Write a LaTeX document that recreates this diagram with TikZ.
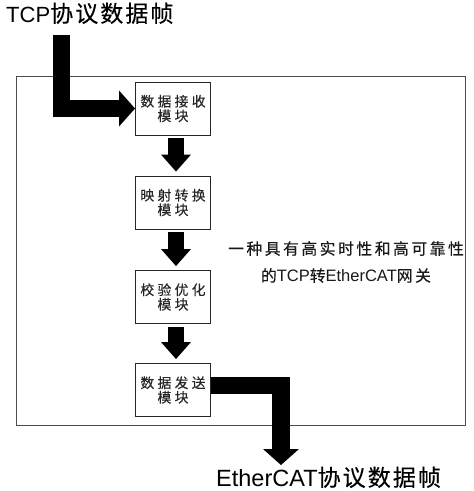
\documentclass[tikz,border=0pt]{standalone}
\usepackage{fontspec}
\setmainfont{Liberation Sans}
\newfontfamily\cjkbig{Noto Sans CJK SC}[LetterSpace=9,FakeBold=0.3]
\newfontfamily\cjkmid{Noto Sans CJK SC}[LetterSpace=16,FakeBold=0.3]
\newfontfamily\cjkbox{Noto Sans CJK SC}[LetterSpace=24,FakeBold=0.15]
\usetikzlibrary{arrows.meta}
\tikzset{
  modbox/.style={draw=black!85, line width=0.9pt, minimum width=75pt, minimum height=53pt,
    inner sep=0pt, align=center, text=black!85, font=\cjkbox\fontsize{13.8pt}{14.5pt}\selectfont},
  downarrow/.style={line width=16pt, line cap=butt,
    -{Triangle[width=30pt,length=17pt,line width=0pt]}},
  bentarrow/.style={line width=17.5pt, line cap=butt, line join=miter,
    -{Triangle[width=36pt,length=16pt,line width=0pt]}},
}
\begin{document}
\begin{tikzpicture}[x=1pt,y=-1pt]
\useasboundingbox (0,0) rectangle (474,491);
\fill[white] (0,0) rectangle (474,491);
% outer gateway frame
\node[draw=black!70, line width=0.9pt, minimum width=449pt, minimum height=349pt, inner sep=0pt] (frame) at (240.5,250.5) {};
% modules
\node[modbox] (m1) at (173,108.5) {数据接收\\模块};
\node[modbox] (m2) at (173,202.5) {映射转换\\模块};
\node[modbox] (m3) at (173,297) {校验优化\\模块};
\node[modbox] (m4) at (173,390) {数据发送\\模块};
% gateway label
\node[align=center, inner sep=0pt, text=black!90, font=\fontsize{16.5pt}{27pt}\selectfont] (label) at (346,262)
  {{\cjkmid\fontsize{15.8pt}{27pt}\selectfont 一种具有高实时性和高可靠性}\\{\cjkmid\fontsize{15.8pt}{27pt}\selectfont 的}TCP{\cjkmid\fontsize{15.8pt}{27pt}\selectfont 转}EtherCAT{\cjkmid\fontsize{15.8pt}{27pt}\selectfont 网关}};
% input / output texts
\node[anchor=base west, inner sep=0pt] (tcp) at (6,22)
  {\fontsize{22pt}{26pt}\selectfont TCP{\cjkbig\fontsize{23pt}{26pt}\selectfont 协议数据帧}};
\node[anchor=base west, inner sep=0pt] (ecat) at (216,486)
  {\fontsize{23.5pt}{28pt}\selectfont EtherCAT{\cjkbig\fontsize{23pt}{26pt}\selectfont 协议数据帧}};
\coordinate (tcpout) at (61.5,35);
\coordinate (ecatin) at (281,465);
% arrows
\draw[bentarrow] (tcpout) |- (m1.west);
\draw[downarrow, shorten <=3pt, shorten >=4pt] ([xshift=3pt]m1.south) -- ([xshift=3pt]m2.north);
\draw[downarrow, shorten <=3pt, shorten >=4pt] ([xshift=3pt]m2.south) -- ([xshift=3pt]m3.north);
\draw[downarrow, shorten <=3pt, shorten >=4pt] ([xshift=3pt]m3.south) -- ([xshift=3pt]m4.north);
\draw[bentarrow] ([yshift=4.5pt]m4.east) -| (ecatin);
\end{tikzpicture}
\end{document}
